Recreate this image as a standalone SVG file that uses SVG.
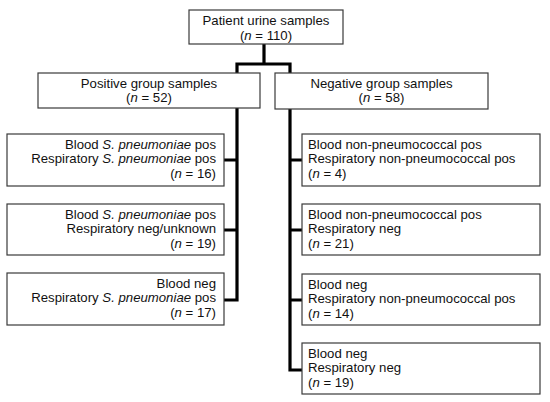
<svg xmlns="http://www.w3.org/2000/svg" width="550" height="402" viewBox="0 0 550 402">
<style>
.box{fill:#fff;stroke:#3a3a3a;stroke-width:1.2}
.con{fill:none;stroke:#000;stroke-width:3.2;stroke-linejoin:miter}
text{font-family:"Liberation Sans",Arial,sans-serif;font-size:13.2px;fill:#111}
.c{text-anchor:middle}
.r{text-anchor:end}
.i{font-style:italic}
</style>
<rect width="550" height="402" fill="#fff"/>
<g id="connectors">
<path class="con" d="M264,44 V64 M237,73 V64 H290 V73"/>
<path class="con" d="M237,108 V300 H224 M237,160 H224 M237,230 H224"/>
<path class="con" d="M290,109 V370 H302 M290,160 H302 M290,230 H302 M290,300 H302"/>
</g>
<g id="n-root">
<rect class="box" x="189" y="10" width="154" height="34"/>
<text class="c" x="266" y="25">Patient urine samples</text>
<text class="c" x="266" y="39.8">(<tspan class="i">n</tspan> = 110)</text>
</g>
<g id="n-pos">
<rect class="box" x="38" y="73" width="222" height="35"/>
<text class="c" x="149" y="87.5">Positive group samples</text>
<text class="c" x="149" y="102.3">(<tspan class="i">n</tspan> = 52)</text>
</g>
<g id="n-neg">
<rect class="box" x="275" y="73" width="213" height="36"/>
<text class="c" x="381.5" y="87.5">Negative group samples</text>
<text class="c" x="381.5" y="102.3">(<tspan class="i">n</tspan> = 58)</text>
</g>
<g id="n-l1">
<rect class="box" x="7" y="134" width="217" height="52"/>
<text class="r" x="216" y="148.5">Blood <tspan class="i">S. pneumoniae</tspan> pos</text>
<text class="r" x="216" y="163.3">Respiratory <tspan class="i">S. pneumoniae</tspan> pos</text>
<text class="r" x="216" y="178.1">(<tspan class="i">n</tspan> = 16)</text>
</g>
<g id="n-l2">
<rect class="box" x="7" y="204" width="217" height="51"/>
<text class="r" x="216" y="218.5">Blood <tspan class="i">S. pneumoniae</tspan> pos</text>
<text class="r" x="216" y="233.3">Respiratory neg/unknown</text>
<text class="r" x="216" y="248.1">(<tspan class="i">n</tspan> = 19)</text>
</g>
<g id="n-l3">
<rect class="box" x="7" y="273" width="217" height="52"/>
<text class="r" x="216" y="287.5">Blood neg</text>
<text class="r" x="216" y="302.3">Respiratory <tspan class="i">S. pneumoniae</tspan> pos</text>
<text class="r" x="216" y="317.1">(<tspan class="i">n</tspan> = 17)</text>
</g>
<g id="n-r1">
<rect class="box" x="302" y="134" width="238" height="52"/>
<text x="308" y="148.5">Blood non-pneumococcal pos</text>
<text x="308" y="163.3">Respiratory non-pneumococcal pos</text>
<text x="308" y="178.1">(<tspan class="i">n</tspan> = 4)</text>
</g>
<g id="n-r2">
<rect class="box" x="302" y="204" width="238" height="51"/>
<text x="308" y="218.5">Blood non-pneumococcal pos</text>
<text x="308" y="233.3">Respiratory neg</text>
<text x="308" y="248.1">(<tspan class="i">n</tspan> = 21)</text>
</g>
<g id="n-r3">
<rect class="box" x="302" y="274" width="238" height="51"/>
<text x="308" y="288.5">Blood neg</text>
<text x="308" y="303.3">Respiratory non-pneumococcal pos</text>
<text x="308" y="318.1">(<tspan class="i">n</tspan> = 14)</text>
</g>
<g id="n-r4">
<rect class="box" x="302" y="343" width="238" height="51"/>
<text x="308" y="357.5">Blood neg</text>
<text x="308" y="372.3">Respiratory neg</text>
<text x="308" y="387.1">(<tspan class="i">n</tspan> = 19)</text>
</g>
</svg>
